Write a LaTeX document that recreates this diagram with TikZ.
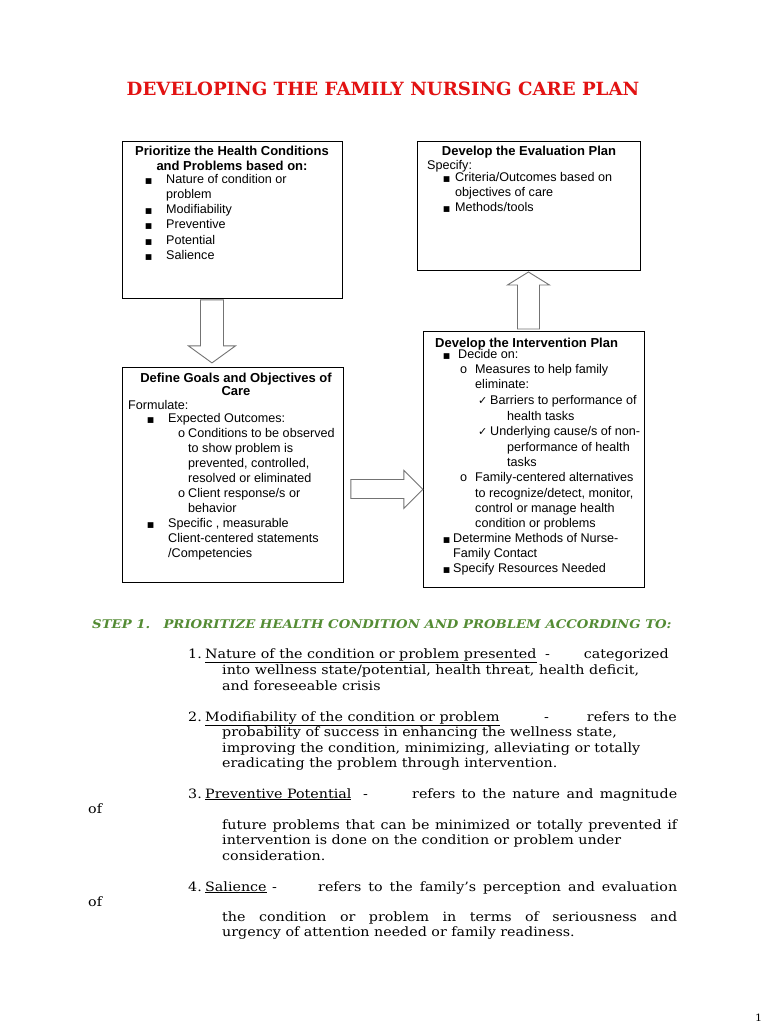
\documentclass[tikz,border=0pt]{standalone}
\usepackage{fontspec}
\setmainfont[FakeStretch=1.11]{DejaVu Serif}
\newfontfamily\titlefont{DejaVu Serif}
\newfontfamily\boxfont{Liberation Sans}
\newfontfamily\symfont{DejaVu Sans}
\definecolor{titlered}{RGB}{226,18,18}
\definecolor{stepgreen}{RGB}{84,140,52}
\newcommand{\sq}[1]{\makebox[#1][l]{\symfont\fontsize{7.5}{10}\selectfont ■}}
\newcommand{\ob}[1]{\makebox[#1][l]{o}}
\newcommand{\ck}[1]{\makebox[#1][l]{\symfont\fontsize{11}{12}\selectfont ✓}}
\tikzset{
  box/.style={draw,line width=0.9pt,inner sep=0pt,anchor=north west},
  blk/.style={draw=black!55,fill=white,line width=0.9pt},
  boxhead/.style={anchor=base,inner sep=0pt,font=\boxfont\bfseries\fontsize{13}{14}\selectfont},
  boxtxt/.style={anchor=base west,inner sep=0pt,font=\boxfont\fontsize{12.6}{14}\selectfont},
  bodytxt/.style={anchor=base west,inner sep=0pt,font=\fontsize{12.85}{15}\selectfont}
}
\begin{document}
\begin{tikzpicture}[x=1pt,y=-1pt]
    \fill[white] (0,0) rectangle (768,1024);
    \useasboundingbox (0,0) rectangle (768,1024);

    \node[anchor=base,inner sep=0pt,text=titlered,font=\titlefont\bfseries\fontsize{18.2}{21}\selectfont] (title) at (383,96) {DEVELOPING THE FAMILY NURSING CARE PLAN};

    \node[box,minimum width=220pt,minimum height=157pt] (prio) at (122,141) {};
    \node[box,minimum width=223pt,minimum height=129pt] (evalp) at (417,141) {};
    \node[box,minimum width=221pt,minimum height=215pt] (goals) at (122,367) {};
    \node[box,minimum width=221pt,minimum height=256pt] (interv) at (423,331) {};

    \draw[blk] (prio.south) ++(-32,1) -- ++(0,46) -- ++(-12,0) -- ++(23.5,17) -- ++(23.5,-17) -- ++(-12,0) -- ++(0,-46) -- cycle;
    \draw[blk] (goals.east) ++(7,4.5) -- ++(53,0) -- ++(0,-9) -- ++(19,19) -- ++(-19,19) -- ++(0,-10) -- ++(-53,0) -- cycle;
    \draw[blk] (interv.north) ++(-16.5,-2) -- ++(0,-44) -- ++(-10,0) -- ++(21,-13) -- ++(21,13) -- ++(-10,0) -- ++(0,44) -- cycle;

    \node[boxhead] (prio-h1) at (232,156) {Prioritize the Health Conditions};
    \node[boxhead] (prio-h2) at (232,171) {and Problems based on:};
    \foreach \lx/\ly/\lt in {145/184/{\sq{21pt}Nature of condition or},166/199/problem,
      145/214/{\sq{21pt}Modifiability},145/229/{\sq{21pt}Preventive},
      145/244/{\sq{21pt}Potential},145/259/{\sq{21pt}Salience}}
      \node[boxtxt] (prio-\ly) at (\lx,\ly) {\lt};

    \node[boxhead] (evalp-h) at (529,156) {Develop the Evaluation Plan};
    \foreach \lx/\ly/\lt in {427/170/{Specify:},443/182/{\sq{12pt}Criteria/Outcomes based on},
      455/197/{objectives of care},443/212/{\sq{12pt}Methods/tools}}
      \node[boxtxt] (evalp-\ly) at (\lx,\ly) {\lt};

    \node[boxhead] (goals-h1) at (236,382) {Define Goals and Objectives of};
    \node[boxhead] (goals-h2) at (236,395) {Care};
    \foreach \lx/\ly/\lt in {128/409/{Formulate:},147/422/{\sq{21pt}Expected Outcomes:},
      178/437/{\ob{10pt}Conditions to be observed},188/452/{to show problem is},
      188/467/{prevented, controlled,},188/482/{resolved or eliminated},
      178/497/{\ob{10pt}Client response/s or},188/512/{behavior},
      147/527/{\sq{21pt}Specific , measurable},168/542/{Client-centered statements},
      168/557/{/Competencies}}
      \node[boxtxt] (goals-\ly) at (\lx,\ly) {\lt};

    \node[boxhead,anchor=base west] (interv-h) at (435,347) {Develop the Intervention Plan};
    \foreach \lx/\ly/\lt in {443/358/{\sq{15pt}Decide on:},460/373/{\ob{15pt}Measures to help family},
      475/388/{eliminate:},478/404/{\ck{12pt}Barriers to performance of},
      507/420/{health tasks},478/435/{\ck{12pt}Underlying cause/s of non-},
      507/451/{performance of health},507/466/{tasks},
      460/481/{\ob{15pt}Family-centered alternatives},475/497/{to recognize/detect, monitor,},
      475/512/{control or manage health},475/527/{condition or problems},
      443/542/{\sq{10pt}Determine Methods of Nurse-},453/557/{Family Contact},
      443/572/{\sq{10pt}Specify Resources Needed}}
      \node[boxtxt] (interv-\ly) at (\lx,\ly) {\lt};

    \node[anchor=base west,inner sep=0pt,text=stepgreen,font=\bfseries\itshape\fontsize{11.95}{14}\selectfont] (step) at (92,628) {STEP 1.\hspace{0.6em} PRIORITIZE HEALTH CONDITION AND PROBLEM ACCORDING TO:};

    \node[bodytxt] (n1) at (188,658) {1.};
    \node[bodytxt] (n1-a) at (205,658) {\underline{Nature of the condition or problem presented}};
    \node[bodytxt] (n1-b) at (545,658) {-};
    \node[bodytxt,anchor=base east] (n1-c) at (669,658) {categorized};
    \node[bodytxt] (n1-d) at (222,674) {into wellness state/potential, health threat, health deficit,};
    \node[bodytxt] (n1-e) at (222,690) {and foreseeable crisis};

    \node[bodytxt] (n2) at (188,721) {2.};
    \node[bodytxt] (n2-a) at (205,721) {\underline{Modifiability of the condition or problem}};
    \node[bodytxt] (n2-b) at (544,721) {-};
    \node[bodytxt,anchor=base east] (n2-c) at (677,721) {refers to the};
    \node[bodytxt] (n2-d) at (222,736) {probability of success in enhancing the wellness state,};
    \node[bodytxt] (n2-e) at (222,752) {improving the condition, minimizing, alleviating or totally};
    \node[bodytxt] (n2-f) at (222,767) {eradicating the problem through intervention.};

    \node[bodytxt] (n3) at (188,798) {3.};
    \node[bodytxt] (n3-a) at (205,798) {\underline{Preventive Potential}};
    \node[bodytxt] (n3-b) at (363,798) {-};
    \node[bodytxt] (n3-c) at (412,798) {\makebox[265pt][s]{refers to the nature and magnitude}};
    \node[bodytxt] (n3-d) at (88,813) {of};
    \node[bodytxt] (n3-e) at (222,829) {\makebox[455pt][s]{future problems that can be minimized or totally prevented if}};
    \node[bodytxt] (n3-f) at (222,844) {intervention is done on the condition or problem under};
    \node[bodytxt] (n3-g) at (222,860) {consideration.};

    \node[bodytxt] (n4) at (188,891) {4.};
    \node[bodytxt] (n4-a) at (205,891) {\underline{Salience}};
    \node[bodytxt] (n4-b) at (272,891) {-};
    \node[bodytxt] (n4-c) at (318,891) {\makebox[359pt][s]{refers to the family’s perception and evaluation}};
    \node[bodytxt] (n4-d) at (88,906) {of};
    \node[bodytxt] (n4-e) at (222,921) {\makebox[455pt][s]{the condition or problem in terms of seriousness and}};
    \node[bodytxt] (n4-f) at (222,936) {urgency of attention needed or family readiness.};

    \node[bodytxt,font=\fontsize{10}{12}\selectfont] (pagenum) at (755,1021) {1};
\end{tikzpicture}
\end{document}
